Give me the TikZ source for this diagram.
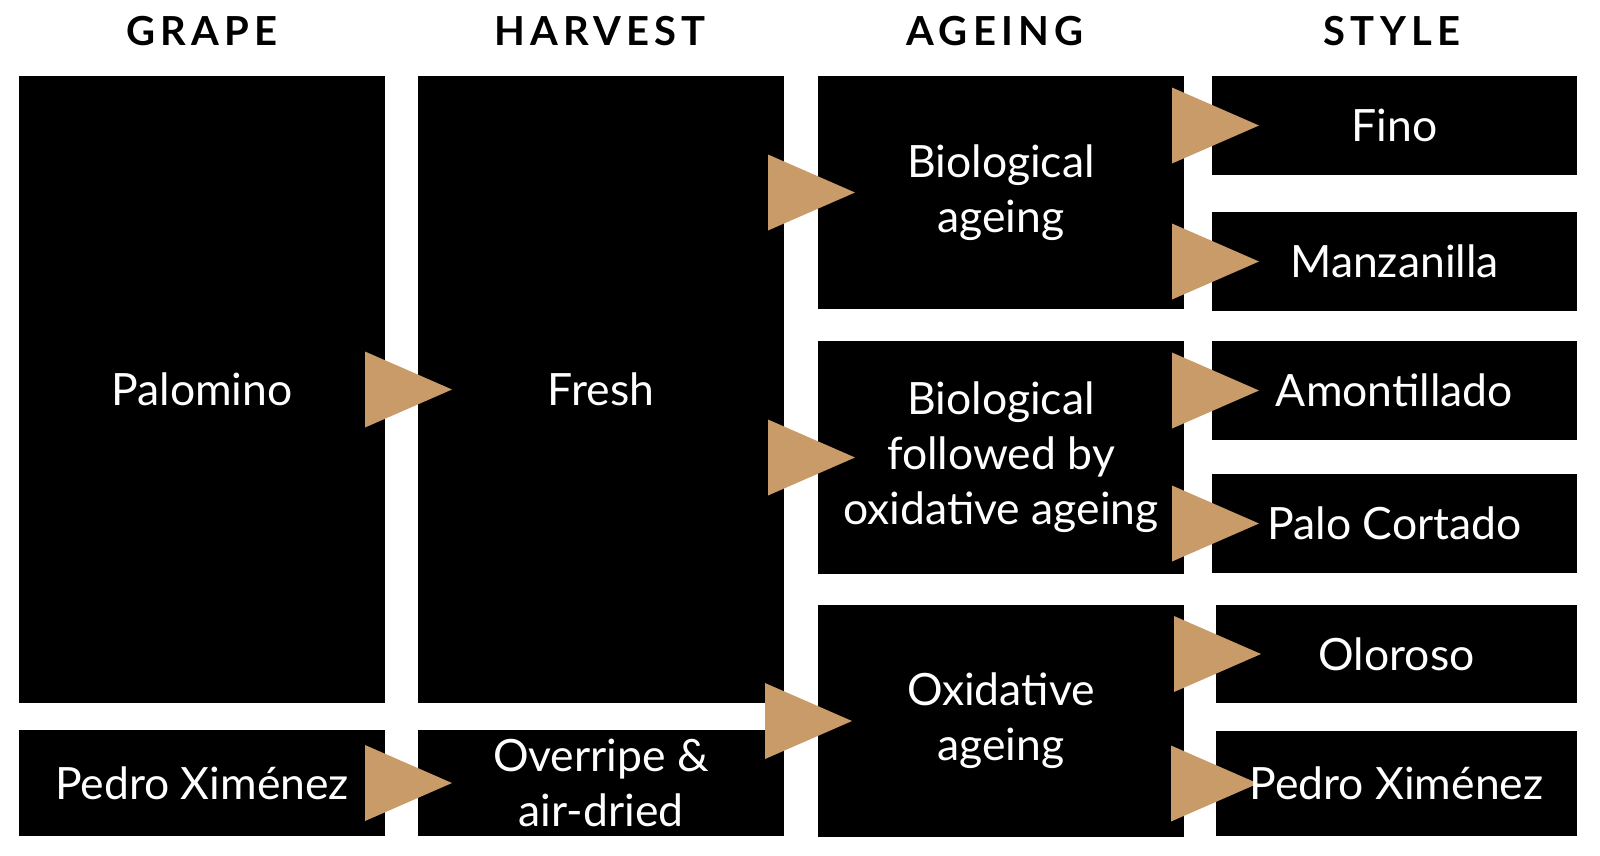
\documentclass[tikz,border=0pt]{standalone}
\usepackage{fontspec}
\setmainfont{Lato}
\newfontfamily\headfont[LetterSpace=13]{Lato}
\usetikzlibrary{calc}
\definecolor{arrowtan}{HTML}{C89B68}
\pgfdeclarelayer{bg}
\pgfdeclarelayer{mid}
\pgfsetlayers{bg,mid,main}
\newcommand\flowtri[3]{%
  \fill[arrowtan] ($(#2.west -| #1.east)+(-#3,-38)$) -- ($(#2.west -| #1.east)+(-#3,38)$) -- ($(#2.west -| #1.east)+(87-#3,0)$) -- cycle;}
\begin{document}
\begin{tikzpicture}[x=1pt,y=-1pt,
  box/.style={inner sep=0pt, outer sep=0pt, text=white, align=center, anchor=north west,
    font=\fontsize{44.5}{55}\selectfont},
  head/.style={anchor=base, inner sep=0pt, font=\headfont\bfseries\fontsize{40}{42}\selectfont}]
\useasboundingbox (0,0) rectangle (1600,855);

% headers
\node[head] (hgrape) at (202,45) {GRAPE};
\node[head] (hharvest) at (600,45) {HARVEST};
\node[head] (hageing) at (995,45) {AGEING};
\node[head] (hstyle) at (1392,45) {STYLE};

% grape
\node[box, minimum width=366, minimum height=627] (palomino) at (19,76) {Palomino};
\node[box, minimum width=366, minimum height=106] (px1) at (19,730) {Pedro Ximénez};
% harvest
\node[box, minimum width=366, minimum height=627] (fresh) at (418,76) {Fresh};
\node[box, minimum width=366, minimum height=106] (overripe) at (418,730) {Overripe \&\\air-dried};
% ageing
\node[box, minimum width=366, minimum height=233] (bio) at (818,76) {Biological\\ageing};
\node[box, minimum width=366, minimum height=233] (biof) at (818,341) {Biological\\followed by\\oxidative ageing};
\node[box, minimum width=366, minimum height=232] (ox) at (818,605) {Oxidative\\ageing};
% style
\node[box, minimum width=365, minimum height=99] (fino) at (1212,76) {Fino};
\node[box, minimum width=365, minimum height=99] (manz) at (1212,212) {Manzanilla};
\node[box, minimum width=365, minimum height=99] (amont) at (1212,341) {Amontillado};
\node[box, minimum width=365, minimum height=99] (palo) at (1212,474) {Palo Cortado};
\node[box, minimum width=361, minimum height=98] (olor) at (1216,605) {Oloroso};
\node[box, minimum width=361, minimum height=105] (px2) at (1216,731) {Pedro Ximénez};

\begin{pgfonlayer}{bg}
\fill[white] (0,0) rectangle (1600,855);
\foreach \n in {palomino,px1,fresh,overripe,bio,biof,ox,fino,manz,amont,palo,olor,px2}
  \fill[black] (\n.north west) rectangle (\n.south east);
\end{pgfonlayer}

\begin{pgfonlayer}{mid}
\flowtri{palomino}{fresh}{20}
\flowtri{px1}{overripe}{20}
\flowtri{fresh}{bio}{16}
\flowtri{fresh}{biof}{16}
\flowtri{overripe}{ox}{19}
\flowtri{bio}{fino}{12}
\flowtri{bio}{manz}{12}
\flowtri{biof}{amont}{12}
\flowtri{biof}{palo}{12}
\flowtri{ox}{olor}{10}
\flowtri{ox}{px2}{13}
\end{pgfonlayer}
\end{tikzpicture}
\end{document}
